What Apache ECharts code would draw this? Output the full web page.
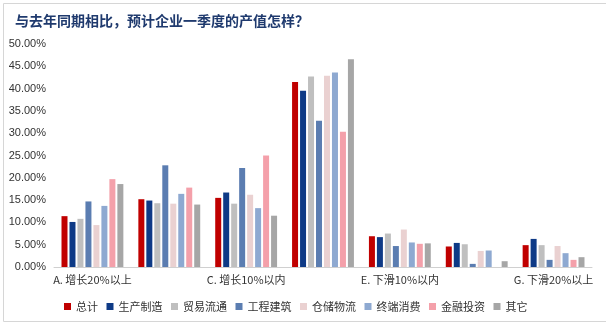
<!DOCTYPE html>
<html>
<head>
<meta charset="utf-8">
<script src="https://cdn.jsdelivr.net/npm/echarts@6/dist/echarts.min.js"></script>
<style>
html,body{margin:0;padding:0;background:#fff;}
#main{width:606px;height:322px;}
</style>
</head>
<body>
<div id="main"></div>
<script>
var categories = ['A. 增长20%以上', 'B. 增长10%-20%', 'C. 增长10%以内', 'D. 持平', 'E. 下滑10%以内', 'F. 下滑10%-20%', 'G. 下滑20%以上'];
var seriesNames = ['总计', '生产制造', '贸易流通', '工程建筑', '仓储物流', '终端消费', '金融投资', '其它'];
var total      = [11.4, 15.2, 15.5, 41.5, 6.9, 4.6, 4.9];
var production = [10.1, 14.9, 16.7, 39.5, 6.7, 5.4, 6.3];
var trade      = [10.8, 14.3, 14.2, 42.7, 7.5, 5.1, 4.9];
var engineering= [14.7, 22.8, 22.2, 32.8, 4.7, 0.7, 1.6];
var logistics  = [9.4, 14.2, 16.2, 42.9, 8.4, 3.6, 4.7];
var consumer   = [13.7, 16.4, 13.2, 43.6, 5.5, 3.7, 3.1];
var finance    = [19.7, 17.8, 25.0, 30.3, 5.2, 0, 1.6];
var others     = [18.6, 14.0, 11.5, 46.6, 5.3, 1.3, 2.2];
var yTicks = [0, 5, 10, 15, 20, 25, 30, 35, 40, 45, 50];

var seriesData = [total, production, trade, engineering, logistics, consumer, finance, others];
var colors = ['#C00000', '#0E3A86', '#BFBFBF', '#5B7DB1', '#EAD1D1', '#8EA9D1', '#F4A0AA', '#A6A6A6'];

var chart = echarts.init(document.getElementById('main'));
chart.setOption({
  animation: false,
  color: colors,
  title: {
    text: '与去年同期相比，预计企业一季度的产值怎样？',
    left: 10, top: 9,
    textStyle: {fontFamily: 'Noto Sans CJK SC', fontSize: 14, fontWeight: 'bold', color: '#1F3A6E'}
  },
  graphic: [{
    type: 'rect', left: 1, top: 1, shape: {width: 603, height: 318},
    style: {fill: 'none', stroke: '#D6D6D6', lineWidth: 1}, silent: true
  }],
  legend: {
    left: 59, top: 296,
    itemWidth: 7, itemHeight: 7, itemGap: 8.5,
    icon: 'rect',
    textStyle: {fontFamily: 'Noto Sans CJK SC', fontSize: 11, color: '#333'},
    data: seriesNames
  },
  grid: {left: 54, right: 14, top: 44, bottom: 55, containLabel: false},
  xAxis: {
    type: 'category',
    data: categories,
    axisLine: {lineStyle: {color: '#D0D0D0'}},
    axisTick: {show: false},
    axisLabel: {interval: 1, fontFamily: 'Noto Sans CJK SC', fontSize: 11, color: '#333', margin: 7}
  },
  yAxis: {
    type: 'value',
    min: 0, max: 50, interval: 5,
    splitLine: {show: false},
    axisLine: {show: false},
    axisTick: {show: false},
    axisLabel: {
      fontFamily: 'Liberation Sans', fontSize: 11, color: '#333', margin: 8,
      formatter: function (v) { return v.toFixed(2) + '%'; }
    }
  },
  series: seriesNames.map(function (name, i) {
    return {
      name: name, type: 'bar', data: seriesData[i],
      barWidth: 6, barGap: '33%'
    };
  })
});
</script>
</body>
</html>
